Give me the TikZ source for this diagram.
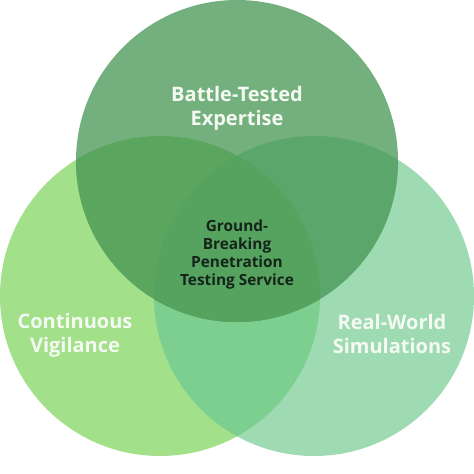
\documentclass[tikz,border=0pt]{standalone}
\usepackage{fontspec}
\setsansfont{Open Sans}
\definecolor{topgreen}{HTML}{73B07E}
\definecolor{leftgreen}{HTML}{A3E08A}
\definecolor{rightgreen}{HTML}{9EDAB2}
\definecolor{tlgreen}{HTML}{5AA65E}
\definecolor{trgreen}{HTML}{5BA66A}
\definecolor{lrgreen}{HTML}{7DCF90}
\definecolor{midgreen}{HTML}{55A35F}
\definecolor{labelwhite}{HTML}{F4FAF2}
\definecolor{labeldark}{HTML}{15241A}
\begin{document}
\begin{tikzpicture}[x=1pt, y=-1pt,
    outer/.style={align=center, font=\sffamily\bfseries\fontsize{20}{24}\selectfont, text=labelwhite, inner sep=0pt},
    inner/.style={align=center, font=\sffamily\bfseries\fontsize{15.4}{18}\selectfont, text=labeldark, inner sep=0pt}]
    \useasboundingbox (0,0) rectangle (474,474);
    \coordinate (bt) at (237,161);
    \coordinate (cv) at (160,296);
    \coordinate (rw) at (314,296);
    % single circles
    \fill[leftgreen] (cv) circle (160pt);
    \fill[rightgreen] (rw) circle (160pt);
    \fill[topgreen] (bt) circle (161pt);
    % pairwise overlaps
    \begin{scope}
      \clip (cv) circle (160pt);
      \fill[lrgreen] (rw) circle (160pt);
    \end{scope}
    \begin{scope}
      \clip (bt) circle (161pt);
      \fill[tlgreen] (cv) circle (160pt);
    \end{scope}
    \begin{scope}
      \clip (bt) circle (161pt);
      \fill[trgreen] (rw) circle (160pt);
    \end{scope}
    % all three
    \begin{scope}
      \clip (bt) circle (161pt);
      \clip (cv) circle (160pt);
      \fill[midgreen] (rw) circle (160pt);
    \end{scope}
    \node[outer] (exp) at (237,108) {Battle-Tested\\Expertise};
    \node[outer] (vig) at (75,335) {Continuous\\Vigilance};
    \node[outer] (sim) at (392,334) {Real-World\\Simulations};
    \node[inner] (svc) at (237,254) {Ground-\\Breaking\\Penetration\\Testing Service};
  \end{tikzpicture}
\end{document}
